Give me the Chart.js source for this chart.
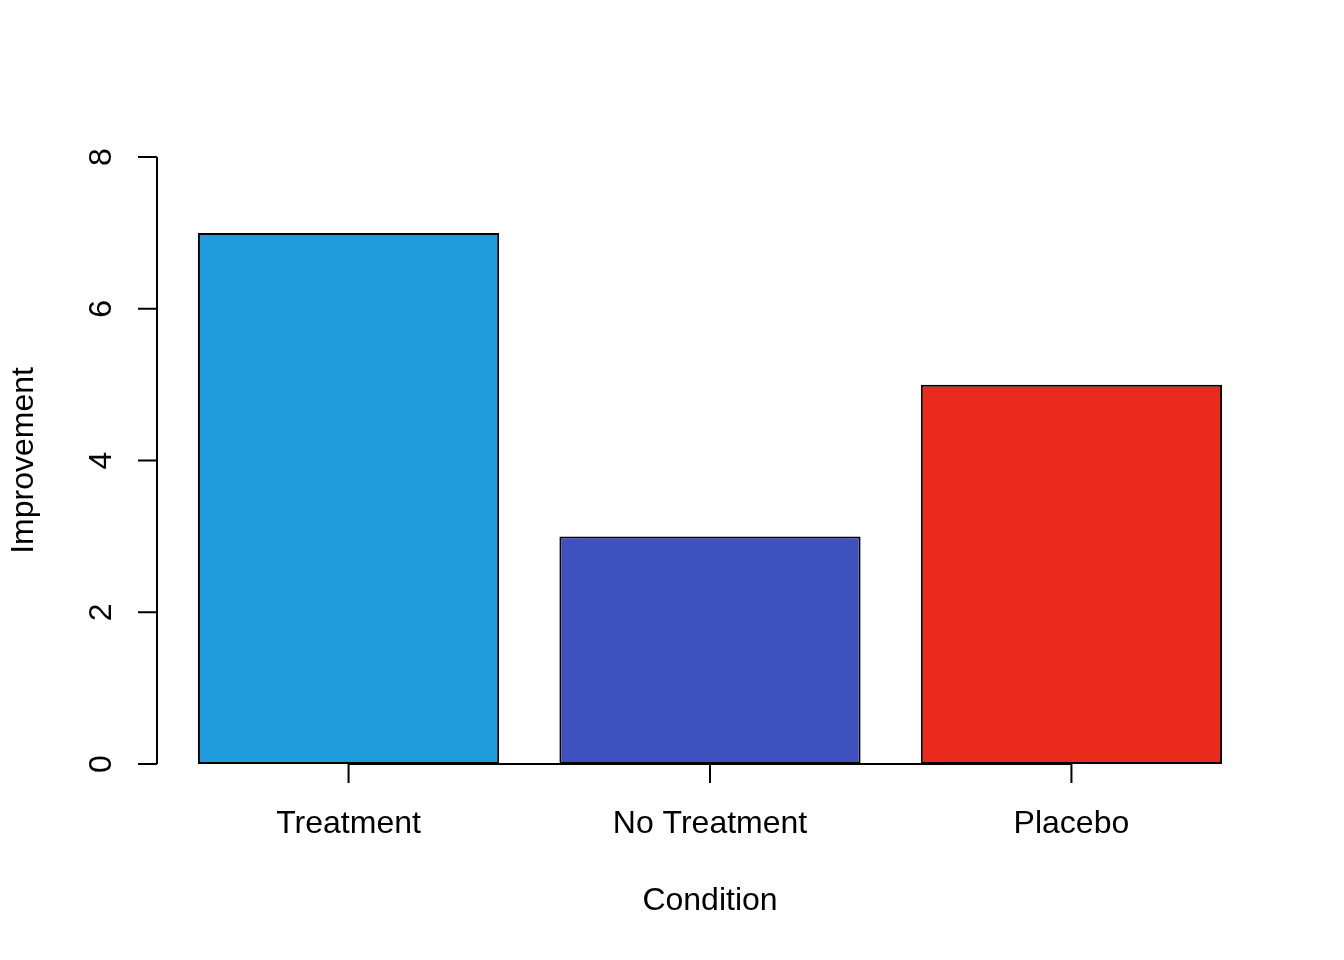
<!DOCTYPE html>
<html>
<head>
<meta charset="utf-8">
<title>Improvement by Condition</title>
<script src="https://cdn.jsdelivr.net/npm/chart.js@4/dist/chart.umd.min.js"></script>
<style>
	html, body { margin: 0; padding: 0; background: #fff; }
	#wrap { width: 1344px; height: 960px; position: relative; }
</style>
</head>
<body>
<div id="wrap"><canvas id="barChart"></canvas></div>
<script>
// data
const conditions = ["Treatment", "No Treatment", "Placebo"];
const improvement = [7, 3, 5];
const barColors = ["#1E9CDB", "#3F51BF", "#EB2A1E"];
const yTicks = [0, 2, 4, 6, 8];

const xTitle = "Condition";
const yTitle = "Improvement";

// R barplot layout: width 1, space 0.2
const barCenter = i => 0.7 + 1.2 * i;
const FONT = "32px 'Liberation Sans', Arial, Helvetica, sans-serif";

const rAxes = {
	id: "rAxes",
	afterDatasetsDraw(chart) {
		const ctx = chart.ctx;
		const area = chart.chartArea;
		const xs = chart.scales.x;
		const ys = chart.scales.y;
		const tick = 19;

		ctx.save();
		ctx.strokeStyle = "#000";
		ctx.fillStyle = "#000";
		ctx.lineWidth = 2;
		ctx.font = FONT;

		// y axis
		const yTop = ys.getPixelForValue(yTicks[yTicks.length - 1]);
		const yBot = ys.getPixelForValue(yTicks[0]);
		ctx.beginPath();
		ctx.moveTo(area.left, yTop);
		ctx.lineTo(area.left, yBot);
		yTicks.forEach(t => {
			const py = ys.getPixelForValue(t);
			ctx.moveTo(area.left - tick, py);
			ctx.lineTo(area.left, py);
		});
		ctx.stroke();

		ctx.textAlign = "center";
		ctx.textBaseline = "alphabetic";
		yTicks.forEach(t => {
			const py = ys.getPixelForValue(t);
			ctx.save();
			ctx.translate(area.left - 46, py);
			ctx.rotate(-Math.PI / 2);
			ctx.fillText(String(t), 0, 0);
			ctx.restore();
		});

		// x axis
		const y0 = ys.getPixelForValue(0);
		const xFirst = xs.getPixelForValue(barCenter(0));
		const xLast = xs.getPixelForValue(barCenter(conditions.length - 1));
		ctx.beginPath();
		ctx.moveTo(xFirst, y0);
		ctx.lineTo(xLast, y0);
		conditions.forEach((c, i) => {
			const px = xs.getPixelForValue(barCenter(i));
			ctx.moveTo(px, y0);
			ctx.lineTo(px, y0 + tick);
		});
		ctx.stroke();

		conditions.forEach((c, i) => {
			const px = xs.getPixelForValue(barCenter(i));
			ctx.fillText(c, px, area.bottom + 69);
		});

		// axis titles
		ctx.fillText(xTitle, (area.left + area.right) / 2, area.bottom + 146);
		ctx.save();
		ctx.translate(33, (area.top + area.bottom) / 2);
		ctx.rotate(-Math.PI / 2);
		ctx.fillText(yTitle, 0, 0);
		ctx.restore();

		ctx.restore();
	}
};

const ctx = document.getElementById("barChart").getContext("2d");
new Chart(ctx, {
	type: "bar",
	data: {
		datasets: [{
			label: yTitle,
			data: improvement.map((v, i) => ({ x: barCenter(i), y: v })),
			backgroundColor: barColors,
			borderColor: "#000",
			borderWidth: 2,
			borderSkipped: false,
			barPercentage: 1,
			categoryPercentage: 1 / 1.2
		}]
	},
	options: {
		responsive: true,
		maintainAspectRatio: false,
		animation: false,
		layout: {
			padding: { left: 157, right: 81, top: 157, bottom: 196 }
		},
		plugins: {
			legend: { display: false },
			tooltip: { enabled: false }
		},
		scales: {
			x: {
				type: "linear",
				min: 0.064,
				max: 3.736,
				offset: false,
				display: false,
				// only the bar centres as ticks, so bar width comes from their spacing
				afterBuildTicks: scale => {
					scale.ticks = conditions.map((c, i) => ({ value: barCenter(i) }));
				}
			},
			y: {
				min: 0,
				max: 8,
				display: false
			}
		}
	},
	plugins: [rAxes]
});
</script>
</body>
</html>
